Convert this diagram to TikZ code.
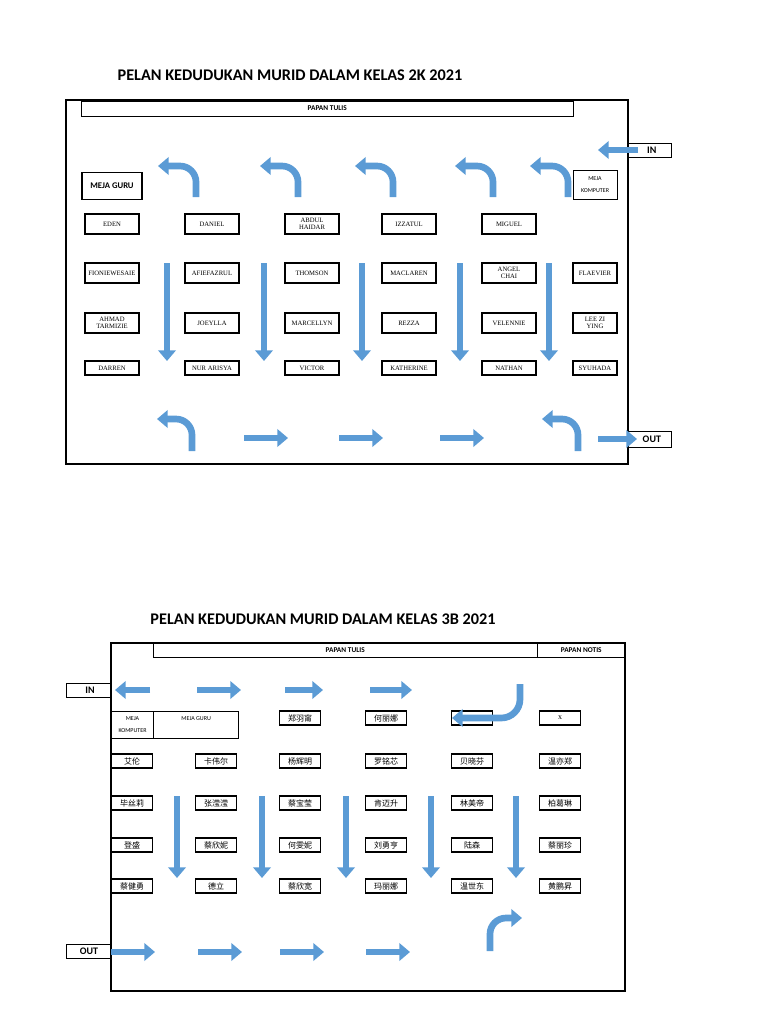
\documentclass[tikz,border=0pt]{standalone}
\usepackage{fontspec}
\setmainfont{Liberation Serif}
\newfontfamily\hdr{Carlito}
\newfontfamily\cjk{Noto Sans CJK SC}
\usetikzlibrary{arrows.meta}
\definecolor{flowblue}{HTML}{5B9BD5}

\begin{document}
\begin{tikzpicture}[
  x=0.75pt, y=-0.75pt,
  seat/.style={draw, thick, minimum width=40.5pt, minimum height=15pt, inner sep=0pt,
    align=center, font=\fontsize{5}{5.5}\selectfont},
  cseat/.style={draw, thick, minimum width=31pt, minimum height=10.5pt, inner sep=0pt,
    font=\cjk\fontsize{6}{6}\selectfont},
  tag/.style={draw, thin, inner sep=0pt, font=\hdr\bfseries\fontsize{7.5}{8}\selectfont},
  heading/.style={font=\hdr\bfseries\fontsize{12.2}{13}\selectfont},
  flow/.style={draw=flowblue, line width=5pt,
    -{Triangle[width=13pt, length=8pt]}},
]
\useasboundingbox (0,0) rectangle (768,1024);

% ---------- kelas 2K ----------
\node [heading] (title2k) at (290,75) {PELAN KEDUDUKAN MURID DALAM KELAS 2K 2021};
\draw [thick] (66,100) rectangle (628,464);
\node [tag, minimum width=369pt, minimum height=11pt, anchor=north west,
  font=\hdr\bfseries\fontsize{5.5}{6}\selectfont] (papan2k) at (81,101) {PAPAN TULIS};
\node [tag, minimum width=32pt, minimum height=10.5pt, anchor=north west] (in2k) at (628,143) {\ \ IN};
\node [tag, minimum width=32pt, minimum height=12pt, anchor=north west] (out2k) at (628,431) {\ \ OUT};
\node [draw, thick, minimum width=45pt, minimum height=20pt, inner sep=0pt,
  font=\hdr\bfseries\fontsize{6.5}{7}\selectfont] (guru2k) at (112,186) {MEJA GURU};
\node [draw, thin, minimum width=33pt, minimum height=22pt, inner sep=0pt, align=center,
  font=\hdr\fontsize{4.5}{9}\selectfont] (komp2k) at (595,185) {MEJA\\KOMPUTER};

\foreach \x/\nm in {112/EDEN, 212/DANIEL, 312/{ABDUL\\HAIDAR}, 409/IZZATUL, 509/MIGUEL}
  \node [seat] (a\x) at (\x,224) {\nm};
\foreach \x/\nm in {112/FIONIEWESAIE, 212/AFIEFAZRUL, 312/THOMSON, 409/MACLAREN,
    509/{ANGEL\\CHAI}}
  \node [seat] (b\x) at (\x,273) {\nm};
\foreach \x/\nm in {112/{AHMAD\\TARMIZIE}, 212/JOEYLLA, 312/MARCELLYN, 409/REZZA,
    509/VELENNIE}
  \node [seat] (c\x) at (\x,323) {\nm};
\foreach \x/\nm in {112/DARREN, 212/NUR ARISYA, 312/VICTOR, 409/KATHERINE, 509/NATHAN}
  \node [seat, minimum height=10.5pt] (d\x) at (\x,368) {\nm};
\node [seat, minimum width=33pt] (b595) at (595,273) {FLAEVIER};
\node [seat, minimum width=33pt] (c595) at (595,323) {LEE ZI\\YING};
\node [seat, minimum width=33pt, minimum height=10.5pt] (d595) at (595,368) {SYUHADA};

% arrows
\foreach \x in {167,264,362,460,549}
  \draw [flow] (\x,263) -- (\x,361);
\foreach \x in {196,298,393,493,568}
  \draw [flow, rounded corners=12pt] (\x,197) -- (\x,166) -- (\x-38,166);
\draw [flow] (638,150) -- (598,150);
\draw [flow, rounded corners=12pt] (192,451) -- (192,419) -- (157,419);
\draw [flow, rounded corners=12pt] (578,451) -- (578,419) -- (542,419);
\foreach \x in {244,339,440}
  \draw [flow] (\x,438) -- (\x+44,438);
\draw [flow] (598,439) -- (637,439);

% ---------- kelas 3B ----------
\node [heading] (title3b) at (323,619) {PELAN KEDUDUKAN MURID DALAM KELAS 3B 2021};
\draw [thick] (111,643) rectangle (625,991);
\node [tag, minimum width=288pt, minimum height=10.5pt, anchor=north west,
  font=\hdr\bfseries\fontsize{5.5}{6}\selectfont] (papan3b) at (153,643) {PAPAN TULIS};
\node [tag, minimum width=66pt, minimum height=10.5pt, anchor=north west,
  font=\hdr\bfseries\fontsize{5.5}{6}\selectfont] (notis3b) at (537,643) {PAPAN NOTIS};
\node [tag, minimum width=34pt, minimum height=10.5pt, anchor=north west] (in3b) at (66,683) {\ IN\hspace{15pt}};
\node [tag, minimum width=34pt, minimum height=10.5pt, anchor=north west] (out3b) at (66,944) {OUT\hspace{13pt}};
\node [draw, thick, minimum width=31.5pt, minimum height=20pt, inner sep=0pt, anchor=north west,
  align=center, font=\hdr\fontsize{4.5}{9}\selectfont] (komp3b) at (111,711) {MEJA\\KOMPUTER};
\node [draw, thick, minimum width=64pt, minimum height=20pt, inner sep=2pt, anchor=north west,
  font=\hdr\fontsize{4.5}{5}\selectfont, text depth=10pt] (guru3b) at (153,711) {MEJA GURU};

\foreach \x/\nm in {300/郑羽甯, 386/何丽娜, 472/{}, 560/{\rmfamily x}}
  \node [cseat] (p\x) at (\x,718) {\nm};
\foreach \x/\nm in {132/艾伦, 216/卡伟尔, 300/杨辉明, 386/罗铭芯, 472/贝晓芬, 560/温亦郑}
  \node [cseat] (q\x) at (\x,761) {\nm};
\foreach \x/\nm in {132/毕丝莉, 216/张滢滢, 300/蔡宝莹, 386/肯迈升, 472/林美帝, 560/柏葛琳}
  \node [cseat] (r\x) at (\x,803) {\nm};
\foreach \x/\nm in {132/登盛, 216/蔡欣妮, 300/何雯妮, 386/刘勇亨, 472/陆森, 560/蔡丽珍}
  \node [cseat] (s\x) at (\x,845) {\nm};
\foreach \x/\nm in {132/蔡健勇, 216/德立, 300/蔡欣宽, 386/玛丽娜, 472/温世东, 560/黄鹏昇}
  \node [cseat] (t\x) at (\x,886) {\nm};

% arrows
\foreach \x in {177,262,346,431,516}
  \draw [flow] (\x,796) -- (\x,878);
\draw [flow] (150,690) -- (115,690);
\foreach \x/\l in {197/44, 285/38, 370/42}
  \draw [flow] (\x,690) -- (\x+\l,690);
\draw [flow, rounded corners=14pt] (520,684) -- (520,718) -- (452,718);
\draw [flow, rounded corners=12pt] (490,951) -- (490,918) -- (522,918);
\foreach \x in {111,198,280,366}
  \draw [flow] (\x,952) -- (\x+44,952);
\end{tikzpicture}
\end{document}
